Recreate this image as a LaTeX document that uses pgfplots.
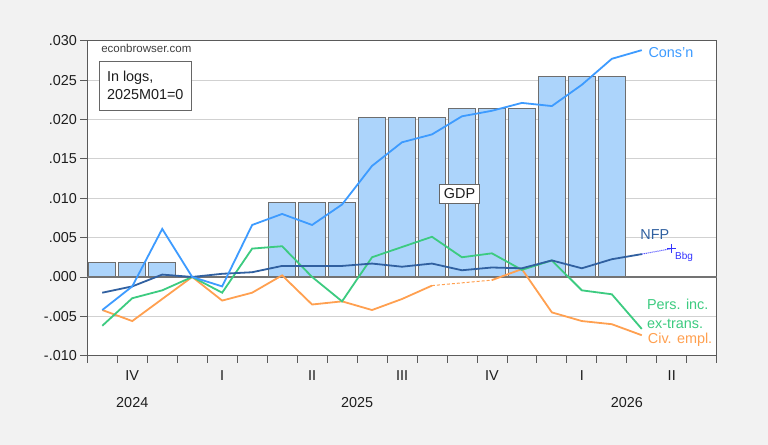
\documentclass[border=0pt]{standalone}
\usepackage{pgfplots}
\pgfplotsset{compat=1.18}
\usepackage{fontspec}
\setmainfont{Liberation Sans}
\definecolor{bgcol}{RGB}{242,242,242}
\definecolor{barcol}{RGB}{172,212,251}
\definecolor{barline}{RGB}{110,110,110}
\definecolor{consc}{RGB}{61,155,255}
\definecolor{nfpc}{RGB}{48,96,160}
\definecolor{pinc}{RGB}{60,203,128}
\definecolor{civc}{RGB}{255,160,80}
\definecolor{bbgc}{RGB}{50,50,255}
\definecolor{framec}{RGB}{90,90,90}
\definecolor{txtc}{RGB}{30,30,30}
\newcommand{\fs}{\fontsize{14.4bp}{17bp}\selectfont}
\begin{document}
\begin{tikzpicture}
\fill[bgcol] (-87.3bp,-89.3bp) rectangle (680.7bp,355.7bp);
\begin{axis}[
  at={(0,0)}, anchor=south west,
  scale only axis, width=629.4bp, height=315bp,
  xmin=-0.5, xmax=20.5, ymin=-0.010, ymax=0.030,
  xtick={-0.5,0.5,1.5,2.5,3.5,4.5,5.5,6.5,7.5,8.5,9.5,10.5,11.5,12.5,13.5,14.5,15.5,16.5,17.5,18.5,19.5,20.5},
  xticklabels={},
  ytick={-0.010,-0.005,0,0.005,0.010,0.015,0.020,0.025,0.030},
  yticklabels={-.010,-.005,.000,.005,.010,.015,.020,.025,.030},
  scaled y ticks=false,
  ymajorgrids, grid style={draw=black!18, line width=0.8bp},
  tick align=outside, major tick length=7bp,
  tick style={draw=framec, line width=0.8bp},
  xtick pos=lower, ytick pos=left,
  axis line style={draw=framec, line width=1bp},
  axis background/.style={fill=white},
  tick label style={font=\fs, text=txtc},
  clip=false,
]
% GDP bars
\addplot[ybar, bar width=27bp, fill=barcol, draw=barline, line width=0.9bp] coordinates {
(0,0.0018) (1,0.0018) (2,0.0018)
(6,0.0095) (7,0.0095) (8,0.0095)
(9,0.0202) (10,0.0202) (11,0.0202)
(12,0.0214) (13,0.0214) (14,0.0214)
(15,0.02545) (16,0.02545) (17,0.02545)
};
% zero line
\addplot[draw=black!55, line width=1.3bp] coordinates {(-0.5,0) (20.5,0)};
% Civ. empl.
\addplot[civc, line width=1.8bp] coordinates {
(0,-0.0042) (1,-0.0056) (2,-0.0028) (3,0) (4,-0.0030) (5,-0.0020) (6,0.0002)
(7,-0.0035) (8,-0.0031) (9,-0.0042) (10,-0.0028) (11,-0.0011)
};
\addplot[civc, line width=1bp, densely dashed] coordinates {(11,-0.0011) (13,-0.0004)};
\addplot[civc, line width=1.8bp] coordinates {
(13,-0.0004) (14,0.0010) (15,-0.0045) (16,-0.0056) (17,-0.0060) (18,-0.0074)
};
% Pers. inc. ex-trans.
\addplot[pinc, line width=1.8bp] coordinates {
(0,-0.0062) (1,-0.0027) (2,-0.0017) (3,0) (4,-0.0020) (5,0.0036) (6,0.0039)
(7,0.0000) (8,-0.0031) (9,0.0025) (10,0.0038) (11,0.0051) (12,0.0025)
(13,0.0030) (14,0.0009) (15,0.0021) (16,-0.0017) (17,-0.0022) (18,-0.0066)
};
% NFP
\addplot[nfpc, line width=1.8bp] coordinates {
(0,-0.0020) (1,-0.0012) (2,0.0003) (3,0) (4,0.0004) (5,0.0006) (6,0.0014)
(7,0.0014) (8,0.0014) (9,0.0017) (10,0.0013) (11,0.0017) (12,0.00085)
(13,0.0012) (14,0.0011) (15,0.0021) (16,0.0011) (17,0.00225) (18,0.0029)
};
\addplot[bbgc, line width=1bp, densely dotted] coordinates {(18,0.0029) (19,0.0036)};
\addplot[bbgc, only marks, mark=+, mark size=4.5bp, line width=1.4bp] coordinates {(19,0.0036)};
% Consumption
\addplot[consc, line width=1.8bp] coordinates {
(0,-0.0042) (1,-0.0012) (2,0.0061) (3,0) (4,-0.0012) (5,0.0066) (6,0.0080)
(7,0.0066) (8,0.0092) (9,0.0141) (10,0.0171) (11,0.0181) (12,0.0204)
(13,0.0211) (14,0.0221) (15,0.0217) (16,0.0244) (17,0.0277) (18,0.0288)
};
% annotations
\node[anchor=west, font=\fontsize{11.5bp}{13bp}\selectfont, text=black!75, inner sep=0] at (axis cs:-0.04,0.02897) {econbrowser.com};
\node[anchor=north west, draw=black!60, fill=white, line width=0.9bp, align=left,
  font=\fs, text=txtc, inner xsep=8bp, inner ysep=4bp, minimum height=49bp] at (axis cs:-0.124,0.02748)
  {In logs,\\[1bp]2025M01=0};
\node[draw=black!60, fill=white, line width=0.9bp, font=\fs, text=txtc,
  inner sep=0pt, minimum width=40bp, minimum height=19bp] at (axis cs:11.92,0.01055) {GDP};
\node[anchor=west, inner sep=0, font=\fs, text=consc] at (axis cs:18.22,0.02855) {Cons'n};
\node[anchor=west, inner sep=0, font=\fs, text=nfpc] at (axis cs:17.95,0.0054) {NFP};
\node[anchor=west, inner sep=0, font=\fontsize{10bp}{12bp}\selectfont, text=bbgc] at (axis cs:19.11,0.00254) {Bbg};
\node[anchor=west, inner sep=0, font=\fs, text=pinc] at (axis cs:18.17,-0.00351) {Pers. inc.};
\node[anchor=west, inner sep=0, font=\fs, text=pinc] at (axis cs:18.17,-0.00593) {ex-trans.};
\node[anchor=west, inner sep=0, font=\fs, text=civc] at (axis cs:18.2,-0.00797) {Civ. empl.};
% quarter and year labels
\node[font=\fs, text=txtc, inner sep=0] at ([yshift=-20.3bp]axis cs:1,-0.010) {IV};
\node[font=\fs, text=txtc, inner sep=0] at ([yshift=-20.3bp]axis cs:4,-0.010) {I};
\node[font=\fs, text=txtc, inner sep=0] at ([yshift=-20.3bp]axis cs:7,-0.010) {II};
\node[font=\fs, text=txtc, inner sep=0] at ([yshift=-20.3bp]axis cs:10,-0.010) {III};
\node[font=\fs, text=txtc, inner sep=0] at ([yshift=-20.3bp]axis cs:13,-0.010) {IV};
\node[font=\fs, text=txtc, inner sep=0] at ([yshift=-20.3bp]axis cs:16,-0.010) {I};
\node[font=\fs, text=txtc, inner sep=0] at ([yshift=-20.3bp]axis cs:19,-0.010) {II};
\node[font=\fs, text=txtc, inner sep=0] at ([yshift=-47bp]axis cs:1,-0.010) {2024};
\node[font=\fs, text=txtc, inner sep=0] at ([yshift=-47bp]axis cs:8.5,-0.010) {2025};
\node[font=\fs, text=txtc, inner sep=0] at ([yshift=-47bp]axis cs:17.5,-0.010) {2026};
\end{axis}
\pgfresetboundingbox
\path[use as bounding box] (-87.3bp,-89.3bp) rectangle (680.7bp,355.7bp);
\end{tikzpicture}
\end{document}
